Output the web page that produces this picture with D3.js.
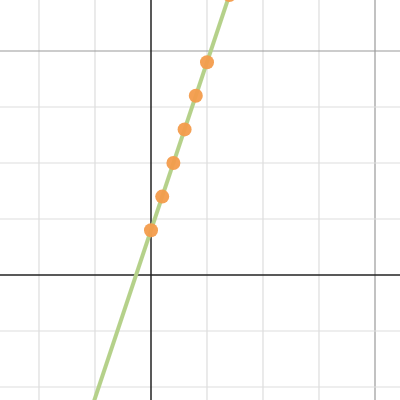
<!DOCTYPE html><html><head><script src="https://d3js.org/d3.v7.min.js"></script>
<style>body{margin:0}svg{display:block}</style></head><body><script>
const xs=[0,0.2,0.4,0.6,0.8,1.0,1.4];
const ys=[0.8,1.4,2.0,2.6,3.2,3.8,5.0];
const slope=3, intercept=0.8;
const W=400,H=400,u=56;
const x=d3.scaleLinear().domain([-151/u,(W-151)/u]).range([0,W]);
const y=d3.scaleLinear().domain([-(H-275)/u,275/u]).range([H,0]);
const svg=d3.select("body").append("svg").attr("width",W).attr("height",H).style("background","#fff");
d3.range(-2,5).forEach(v=>{if(v===0)return;svg.append("line").attr("x1",x(v)).attr("x2",x(v)).attr("y1",0).attr("y2",H).attr("stroke",v%4===0?"#999":"#ddd").attr("stroke-width",1.2);});
d3.range(-2,5).forEach(v=>{if(v===0)return;svg.append("line").attr("y1",y(v)).attr("y2",y(v)).attr("x1",0).attr("x2",W).attr("stroke",v%4===0?"#999":"#ddd").attr("stroke-width",1.2);});
svg.append("line").attr("x1",x(0)).attr("x2",x(0)).attr("y1",0).attr("y2",H).attr("stroke","#222").attr("stroke-width",1.5);
svg.append("line").attr("y1",y(0)).attr("y2",y(0)).attr("x1",0).attr("x2",W).attr("stroke","#222").attr("stroke-width",1.5);
const xd=x.domain();
svg.append("line").attr("x1",x(xd[0])).attr("y1",y(slope*xd[0]+intercept)).attr("x2",x(xd[1])).attr("y2",y(slope*xd[1]+intercept)).attr("stroke","#b5d18a").attr("stroke-width",4);
svg.selectAll("circle").data(xs).join("circle").attr("cx",d=>x(d)).attr("cy",(d,i)=>y(ys[i])).attr("r",7).attr("fill","#f39c4c").attr("opacity",0.95);
</script></body></html>
